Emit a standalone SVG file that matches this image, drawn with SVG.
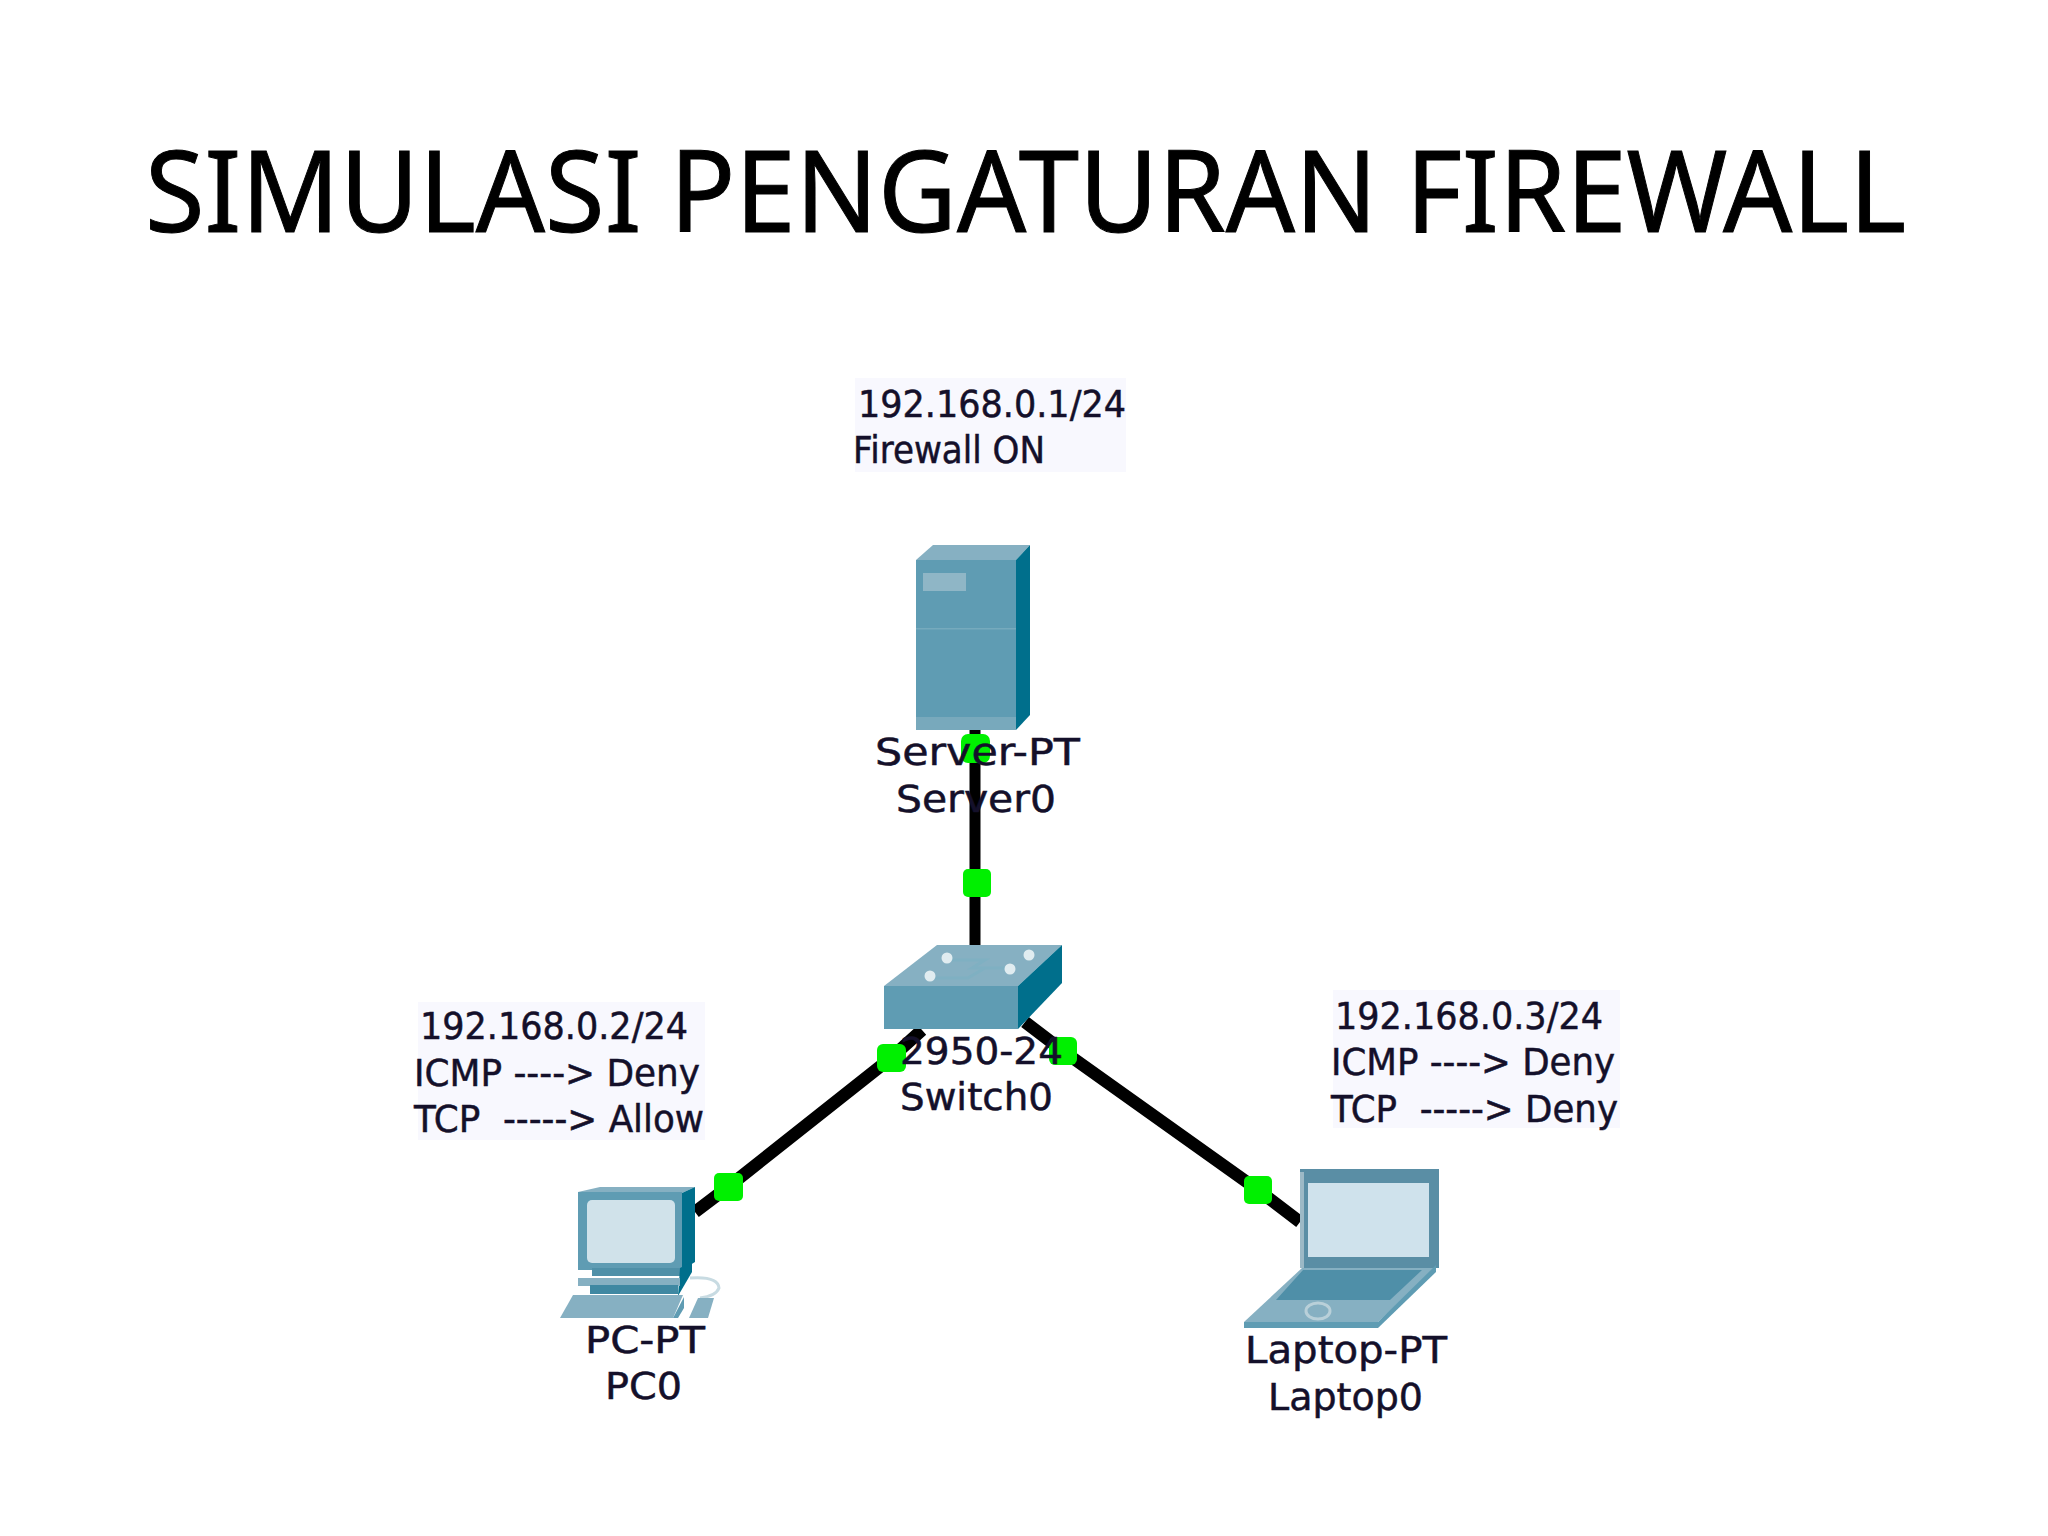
<svg xmlns="http://www.w3.org/2000/svg" width="2048" height="1536" viewBox="0 0 2048 1536">
<style>
.t{font-family:"DejaVu Sans","Liberation Sans",sans-serif;font-size:37px;fill:#14102a;stroke:#14102a;stroke-width:.5}
.title{font-family:"Noto Sans","Open Sans",sans-serif;font-size:113px;fill:#000;stroke:#000;stroke-width:1}
.box{fill:#f8f8fe}
.cable{stroke:#000;stroke-width:11;fill:none}
.diag{stroke-width:12.500}
.dot{fill:#00f000}
.f{fill:#5f9cb3}.d{fill:#006f8c}.l{fill:#86b0c2}
</style>
<rect width="2048" height="1536" fill="#fff"/>
<text class="title" x="145" y="232" textLength="1761" lengthAdjust="spacingAndGlyphs">SIMULASI PENGATURAN FIREWALL</text>
<g id="connectors">
<path class="cable" d="M975 730V948"/>
<path class="cable diag" d="M922 1030L891 1058L728 1187L695 1212"/>
<path class="cable diag" d="M1025 1022L1063 1051L1258 1190L1300 1222"/>
</g>
<g id="server">
<rect class="box" x="855" y="378" width="271" height="94"/>
<path class="l" d="M916 560L933 545H1030L1016 560Z"/>
<rect class="f" x="916" y="560" width="100" height="170"/>
<path class="d" d="M1016 560L1030 545V715L1016 730Z"/>
<rect x="923" y="573" width="43" height="18" fill="#8fb6c6"/>
<rect x="916" y="628" width="100" height="1.500" fill="#76aabd"/>
<rect x="916" y="717" width="100" height="13" fill="#78a9bc"/>
<rect class="dot" x="961" y="734" width="29" height="29" rx="7"/>
<text class="t" x="858" y="417" textLength="268" lengthAdjust="spacingAndGlyphs">192.168.0.1/24</text>
<text class="t" x="853" y="463" textLength="192" lengthAdjust="spacingAndGlyphs">Firewall ON</text>
<text class="t" x="875" y="765" textLength="205" lengthAdjust="spacingAndGlyphs">Server-PT</text>
<text class="t" x="896" y="812" textLength="160" lengthAdjust="spacingAndGlyphs">Server0</text>
</g>
<rect id="link-dot" class="dot" x="963" y="869" width="28" height="28" rx="5"/>
<g id="switch">
<path class="l" d="M884 986L937 945H1062L1018 986Z"/>
<rect class="f" x="884" y="986" width="134" height="43"/>
<path class="d" d="M1018 986L1062 945V983L1018 1029Z"/>
<path d="M945 960H985L972 968H1012M930 978H968L985 968" fill="none" stroke="#7fb0c2" stroke-width="3"/>
<g fill="#e0ecf0"><circle cx="947" cy="958" r="5.500"/><circle cx="1029" cy="955" r="5.500"/><circle cx="930" cy="976" r="5.500"/><circle cx="1010" cy="969" r="5.500"/></g>
<rect class="dot" x="877" y="1044" width="29" height="28" rx="6"/>
<rect class="dot" x="1049" y="1037" width="28" height="28" rx="6"/>
<text class="t" x="900" y="1064" textLength="163" lengthAdjust="spacingAndGlyphs">2950-24</text>
<text class="t" x="900" y="1110" textLength="153" lengthAdjust="spacingAndGlyphs">Switch0</text>
</g>
<g id="pc">
<rect class="box" x="418" y="1002" width="287" height="138"/>
<rect class="dot" x="714" y="1173" width="29" height="28" rx="5"/>
<path class="l" d="M578 1192L600 1187H695L682 1193Z"/>
<rect class="f" x="578" y="1192" width="104" height="78"/>
<path class="d" d="M682 1193L695 1187V1262L682 1270Z"/>
<rect x="587" y="1200" width="88" height="63" rx="5" fill="#d0e2ea"/>
<rect x="592" y="1268" width="88" height="8" fill="#4f90a8"/>
<path class="d" d="M680 1268L692 1262V1272L678 1296Z"/>
<rect x="578" y="1278" width="102" height="8" fill="#86b0c2"/>
<rect x="590" y="1285" width="88" height="9" fill="#3f88a2"/>
<path class="l" d="M560 1318L573 1295H683L673 1318Z"/>
<path class="f" d="M673 1318L684 1297V1308L678 1318Z"/>
<path d="M690 1278Q718 1276 719 1288Q716 1296 700 1298" fill="none" stroke="#c8dbe2" stroke-width="3"/>
<path class="l" d="M689 1318L698 1298H714L708 1318Z"/>
<text class="t" x="420" y="1039" textLength="268" lengthAdjust="spacingAndGlyphs">192.168.0.2/24</text>
<text class="t" x="414" y="1086" textLength="286" lengthAdjust="spacingAndGlyphs">ICMP ----&gt; Deny</text>
<text class="t" x="414" y="1132" textLength="290" lengthAdjust="spacingAndGlyphs" xml:space="preserve">TCP  -----&gt; Allow</text>
<text class="t" x="585" y="1353" textLength="120" lengthAdjust="spacingAndGlyphs">PC-PT</text>
<text class="t" x="605" y="1399" textLength="77" lengthAdjust="spacingAndGlyphs">PC0</text>
</g>
<g id="laptop">
<rect class="box" x="1333" y="990" width="287" height="138"/>
<rect class="dot" x="1244" y="1176" width="28" height="28" rx="5"/>
<rect x="1300" y="1169" width="139" height="99" fill="#5a8ea5"/>
<rect x="1300" y="1172" width="4" height="96" fill="#9cb9c6"/>
<rect x="1308" y="1183" width="121" height="74" fill="#cfe2ec"/>
<path class="l" d="M1302 1268H1436L1378 1322H1244Z"/>
<path d="M1303 1270H1422L1390 1300H1276Z" fill="#4f8fa8"/>
<path class="f" d="M1436 1265V1272L1378 1328V1322Z"/>
<rect x="1244" y="1322" width="134" height="6" fill="#5f9cb3"/>
<ellipse cx="1318" cy="1311" rx="12" ry="8" fill="none" stroke="#b9d0d9" stroke-width="3"/>
<text class="t" x="1335" y="1029" textLength="268" lengthAdjust="spacingAndGlyphs">192.168.0.3/24</text>
<text class="t" x="1331" y="1075" textLength="284" lengthAdjust="spacingAndGlyphs">ICMP ----&gt; Deny</text>
<text class="t" x="1331" y="1122" textLength="287" lengthAdjust="spacingAndGlyphs" xml:space="preserve">TCP  -----&gt; Deny</text>
<text class="t" x="1245" y="1363" textLength="202" lengthAdjust="spacingAndGlyphs">Laptop-PT</text>
<text class="t" x="1268" y="1410" textLength="155" lengthAdjust="spacingAndGlyphs">Laptop0</text>
</g>
</svg>
